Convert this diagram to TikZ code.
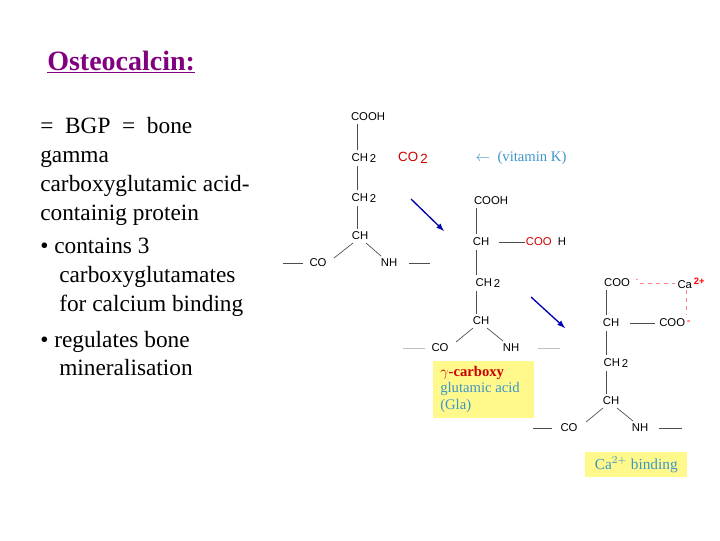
\documentclass[tikz,border=0pt]{standalone}
\usepackage{fontspec}
\setmainfont{Liberation Serif}
\setsansfont{Liberation Sans}
\begin{document}
\begin{tikzpicture}[x=0.75pt,y=-0.75pt,
  chem/.style={font=\sffamily\fontsize{8.5}{9}\selectfont,inner sep=1pt},
  bond/.style={draw=black!70,line width=0.5pt},
  body/.style={font=\fontsize{17.5}{19}\selectfont,anchor=base west,inner sep=0pt},
  blue arr/.style={draw=blue!70!black,line width=1pt,-latex},
  ybox/.style={fill=yellow!45,inner sep=0pt}]
\useasboundingbox (0,0) rectangle (720,540);
\definecolor{tl}{RGB}{60,150,200}
\definecolor{pu}{RGB}{128,0,128}
\node[body,text=pu,font=\bfseries\fontsize{21}{23}\selectfont] (title) at (47,70) {\underline{Osteocalcin:}};
\node[body] (l1) at (40,133) {= \ BGP \ = \ bone};
\node[body] (l2) at (40,162) {gamma};
\node[body] (l3) at (40,191) {carboxyglutamic acid-};
\node[body] (l4) at (40,220) {containig protein};
\node[body] (l5) at (40,253) {\textbullet\ contains 3};
\node[body] (l6) at (59,282) {carboxyglutamates};
\node[body] (l7) at (59,311) {for calcium binding};
\node[body] (l8) at (40,347) {\textbullet\ regulates bone};
\node[body] (l9) at (59,375) {mineralisation};
% molecule 1
\node[chem] (a1) at (368,117) {COOH};
\node[chem] (a2) at (364,158) {CH\,\raisebox{-1pt}{2}};
\node[chem] (a3) at (364,198) {CH\,\raisebox{-1pt}{2}};
\node[chem] (a4) at (360,236) {CH};
\node[chem] (a5) at (318,263) {CO};
\node[chem] (a6) at (389,263) {NH};
\coordinate (a7) at (283,263); \coordinate (a8) at (430,263);
\draw[bond] (357,124)--(357,150) (357,166)--(357,190) (357,206)--(357,229);
\draw[bond] (353,243)--(334,258) (366,243)--(381,256);
\draw[bond] (a7)--(303,263) (409,263)--(a8);
\node[chem,text=red!80!black,font=\sffamily\fontsize{10}{11}\selectfont] (co2) at (413,158) {CO\,\raisebox{-1pt}{2}};
\node[text=tl,font=\fontsize{11}{12}\selectfont] (vk) at (521,158) {$\leftarrow$ \ (vitamin K)};
\coordinate (p1) at (411,199); \coordinate (p2) at (444,231);
\draw[blue arr] (p1)--(p2);
% molecule 2
\node[chem] (b1) at (491,201) {COOH};
\node[chem] (b2) at (481,242) {CH};
\node[chem] (b3) at (546,242) {\textcolor{red!80!black}{COO}\ \ H};
\node[chem] (b4) at (488,283) {CH\,\raisebox{-1pt}{2}};
\node[chem] (b5) at (481,321) {CH};
\node[chem] (b6) at (440,348) {CO};
\node[chem] (b7) at (511,348) {NH};
\coordinate (b8) at (403,348); \coordinate (b9) at (560,348);
\draw[bond] (476,208)--(476,234) (476,250)--(476,275) (476,291)--(476,314);
\draw[bond] (499,242)--(525,242);
\draw[bond] (473,328)--(456,342) (487,328)--(503,341);
\draw[draw=black!25] (b8)--(425,348) (538,348)--(b9);
\coordinate (q1) at (531,297); \coordinate (q2) at (565,328);
\draw[blue arr] (q1)--(q2);
\node[ybox,minimum width=75.75pt,minimum height=42.75pt,anchor=north west] (gbox) at (433,361) {};
\node[anchor=west,inner sep=0pt,font=\bfseries\fontsize{11}{12}\selectfont] (g1) at (440,373) {\textcolor{red!80!black}{$\gamma$-carboxy}};
\node[anchor=west,inner sep=0pt,text=tl,font=\fontsize{11}{12}\selectfont] (g2) at (440,389) {glutamic acid};
\node[anchor=west,inner sep=0pt,text=tl,font=\fontsize{11}{12}\selectfont] (g3) at (440,406) {(Gla)};
% molecule 3
\node[chem] (c1) at (617,283) {COO};
\node[chem] (c2) at (691,283) {Ca\,\raisebox{3pt}{\textcolor{red}{\scriptsize\bfseries 2+}}};
\node[chem] (c3) at (611,323) {CH};
\node[chem] (c4) at (675,323) {COO\,\raisebox{2pt}{\textcolor{red}{-}}};
\node[chem] (c5) at (616,363) {CH\,\raisebox{-1pt}{2}};
\node[chem] (c6) at (611,401) {CH};
\node[chem] (c7) at (569,428) {CO};
\node[chem] (c8) at (640,428) {NH};
\coordinate (c9) at (533,428); \coordinate (c10) at (682,428);
\draw[red!50,dashed] (640,283)--(675,283) (686,290)--(686,315);
\node[text=red,font=\sffamily\tiny] at (637,280) {-};
\draw[bond] (606,290)--(606,315) (606,331)--(606,355) (606,371)--(606,394);
\draw[bond] (630,323)--(655,323);
\draw[bond] (603,408)--(586,422) (617,408)--(633,421);
\draw[bond] (c9)--(552,428) (659,428)--(c10);
\node[ybox,minimum width=76.5pt,minimum height=18.75pt,anchor=north west,text=tl,font=\fontsize{11.5}{12}\selectfont] (cbox) at (585,452) {Ca$^{2+}$ binding};
\end{tikzpicture}
\end{document}
